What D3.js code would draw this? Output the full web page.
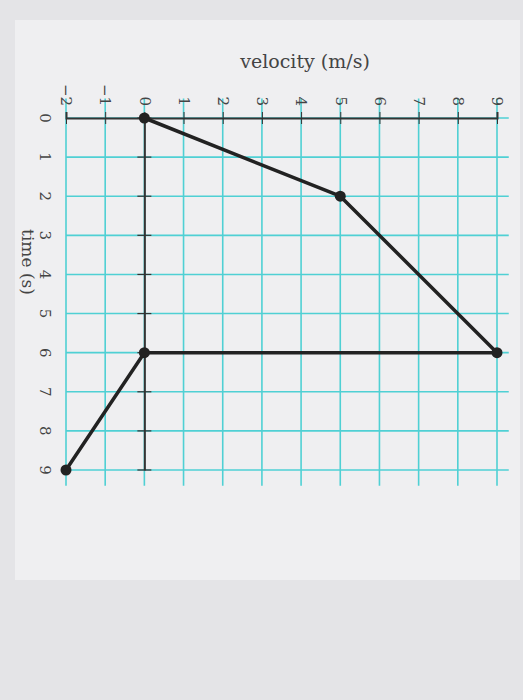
<!DOCTYPE html>
<html><head><meta charset="utf-8">
<script src="https://cdn.jsdelivr.net/npm/d3@7"></script>
<style>body{margin:0;background:#d9d9dc;}</style>
</head><body><svg></svg>
<script>
var width = 523, height = 700;
var times = [0, 2, 6, 6, 9];
var velocities = [0, 5, 9, 0, -2];
var vTicks = [-2, -1, 0, 1, 2, 3, 4, 5, 6, 7, 8, 9];
var tTicks = [0, 1, 2, 3, 4, 5, 6, 7, 8, 9];

var svg = d3.select('svg').attr('width', width).attr('height', height);

// paper
svg.append('rect').attr('x', 0).attr('y', 0).attr('width', width).attr('height', height)
	.attr('fill', '#e4e4e7');
svg.append('rect').attr('x', 15).attr('y', 20).attr('width', 505).attr('height', 560)
	.attr('fill', '#efeff1');

// velocity runs left to right, time runs top to bottom (picture is rotated)
var x = d3.scaleLinear().domain([-2, 9]).range([66, 497]);
var y = d3.scaleLinear().domain([0, 9]).range([118, 470]);

var grid = svg.append('g').attr('stroke', '#4fd0d4').attr('stroke-width', 1.6);
d3.range(-2, 9.1, 1).forEach(v => {
	grid.append('line').attr('x1', x(v)).attr('x2', x(v)).attr('y1', y(-0.5)).attr('y2', y(9.4));
});
d3.range(0, 9.5, 1).forEach(t => {
	grid.append('line').attr('x1', x(-2)).attr('x2', x(9.3)).attr('y1', y(t)).attr('y2', y(t));
});

// velocity axis (along t = 0)
var vAxis = d3.axisTop(x).tickValues(vTicks).tickSize(6).tickFormat(d => d < 0 ? '\u2212' + (-d) : d);
var ga = svg.append('g').attr('transform', `translate(0,${y(0)})`).call(vAxis);
ga.select('.domain').attr('stroke', '#333').attr('stroke-width', 2);
ga.selectAll('.tick line').attr('stroke', '#333').attr('y1', 6);
ga.selectAll('.tick text')
	.attr('font-family', 'DejaVu Serif').attr('font-size', 15).attr('fill', '#444')
	.attr('transform', 'translate(0,-12) rotate(90)').attr('text-anchor', 'end').attr('dy', '0.35em').attr('y', 0);

// time axis (along v = 0)
var tAxis = d3.axisLeft(y).tickValues(tTicks).tickSize(0).tickFormat('');
var gt = svg.append('g').attr('transform', `translate(${x(0)},0)`).call(tAxis);
gt.select('.domain').attr('stroke', '#333').attr('stroke-width', 2);
tTicks.forEach(t => {
	svg.append('line').attr('x1', x(0) - 7).attr('x2', x(0) + 7).attr('y1', y(t)).attr('y2', y(t))
		.attr('stroke', '#333').attr('stroke-width', 1.2);
});
svg.selectAll('.tlab').data(tTicks).enter().append('text')
	.attr('transform', d => `translate(45,${y(d)}) rotate(90)`)
	.attr('text-anchor', 'middle').attr('dy', '0.35em')
	.attr('font-family', 'DejaVu Serif').attr('font-size', 15).attr('fill', '#444')
	.text(d => d);

svg.append('text').attr('x', 305).attr('y', 68).attr('text-anchor', 'middle')
	.attr('font-family', 'DejaVu Serif').attr('font-size', 19).attr('fill', '#444')
	.text('velocity (m/s)');
svg.append('text').attr('transform', 'translate(22,262) rotate(90)').attr('text-anchor', 'middle')
	.attr('font-family', 'DejaVu Serif').attr('font-size', 17).attr('fill', '#444')
	.text('time (s)');

var pts = times.map((t, i) => ({t: t, v: velocities[i]}));
var line = d3.line().x(d => x(d.v)).y(d => y(d.t));
svg.append('path').attr('d', line(pts)).attr('fill', 'none')
	.attr('stroke', '#222').attr('stroke-width', 3.5).attr('stroke-linejoin', 'round');
svg.selectAll('.pt').data(pts).enter().append('circle')
	.attr('cx', d => x(d.v)).attr('cy', d => y(d.t)).attr('r', 5.5).attr('fill', '#222');
</script></body></html>
